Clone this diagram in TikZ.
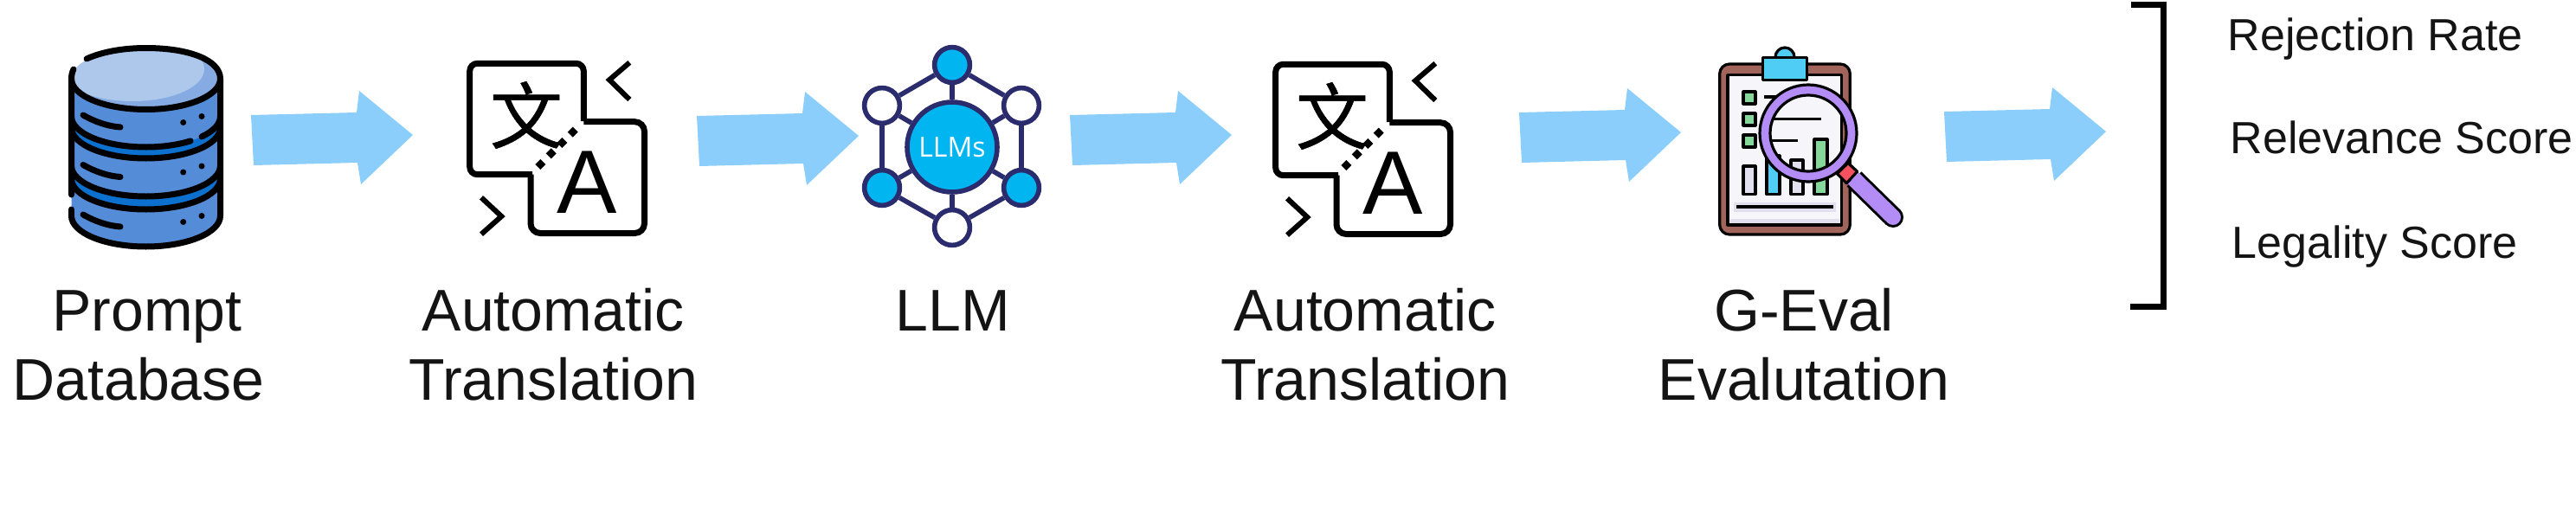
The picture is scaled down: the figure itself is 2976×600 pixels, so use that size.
\documentclass[tikz,border=0pt]{standalone}
\usepackage{fontspec}
\setmainfont{Liberation Sans}
\newfontfamily\cjkfont[FakeBold=0.6]{Noto Sans CJK SC}
\newfontfamily\iconfont{Open Sans}
\usetikzlibrary{calc}
\definecolor{arrowblue}{HTML}{8CCEFB}
\definecolor{dbmid}{HTML}{558CD8}
\definecolor{dbtop}{HTML}{86ABE3}
\definecolor{dbhigh}{HTML}{AEC8EC}
\definecolor{dbband}{HTML}{0B70CE}
\definecolor{netnavy}{HTML}{2A2C6E}
\definecolor{netcyan}{HTML}{00B5F0}
\definecolor{boardbrown}{HTML}{A0645A}
\definecolor{paperwhite}{HTML}{F6F5FA}
\definecolor{papershade}{HTML}{E2E0EE}
\definecolor{clipcyan}{HTML}{4FCDF5}
\definecolor{checkgreen}{HTML}{85D89A}
\definecolor{lenspurple}{HTML}{B48CF5}
\definecolor{collarred}{HTML}{F5515F}
\newcommand{\blockarrow}[2]{%
  \fill[blockarrow,shift={(#1,#2)}] (290,133) -- (412,130) -- (415,105) -- (477,156) -- (417,213) -- (413,188) -- (293,191) -- cycle;}
\tikzset{
  x=0.25pt,y=-0.25pt,
  blockarrow/.style={arrowblue},
  biglabel/.style={font=\fontsize{17}{20}\selectfont,align=center,inner sep=0pt,anchor=base,text=black!92},
  metriclabel/.style={font=\fontsize{13}{16}\selectfont,inner sep=0pt,anchor=base west,text=black!92},
  dbline/.style={line width=1.75pt,line cap=round,black},
  netedge/.style={line width=1.4pt,netnavy},
  netnode/.style={circle,draw=netnavy,line width=1.4pt,minimum size=10.2pt,inner sep=0pt},
  netfilled/.style={netnode,fill=netcyan},
  netempty/.style={netnode,fill=white},
  ink/.style={line width=0.8pt,black},
  thinbox/.style={ink,line join=round},
  transline/.style={line width=1.75pt,black},
  translation icon/.pic={
    \draw[transline,rounded corners=2.2pt] (674.3,140) -- (674.3,73.3) -- (542.7,73.3) -- (542.7,201.7) -- (615,201.7);
    \draw[transline,rounded corners=2.8pt] (674.3,140.7) -- (744.5,140.7) -- (744.5,269.5) -- (613,269.5) -- (613,201.7);
    \foreach \dx/\dy in {624.3/190,636.7/177.3,649.3/165,661.7/152.7}
      \fill (\dx-6,\dy) -- (\dx,\dy-6) -- (\dx+6,\dy) -- (\dx,\dy+6) -- cycle;
    \draw[line width=1.5pt,miter limit=10] (727.3,72.3) -- (704,92.3) -- (727.3,115);
    \draw[line width=1.5pt,miter limit=10] (556,228.3) -- (579.3,250) -- (556,270.7);
    \node[inner sep=0pt,font=\cjkfont\fontsize{21}{24}\selectfont] (zh) at (608,133) {文};
    \node[inner sep=0pt,anchor=base,font=\fontsize{26}{28}\selectfont] (en) at (678,246) {A};
  }
}
\begin{document}
\begin{tikzpicture}
\useasboundingbox (0,0) rectangle (2976,600);
% ---------- database ----------
\fill[dbmid] (82.5,91) -- (82.5,249.5) arc[start angle=180,end angle=0,x radius=86,y radius=35.5] -- (254.5,91) -- cycle;
\fill[dbband] (82.5,134.5) arc[start angle=180,end angle=0,x radius=86,y radius=35.5] -- (254.5,147.5) arc[start angle=0,end angle=180,x radius=86,y radius=35.5] -- cycle;
\fill[dbband] (82.5,191.5) arc[start angle=180,end angle=0,x radius=86,y radius=35.5] -- (254.5,206.5) arc[start angle=0,end angle=180,x radius=86,y radius=35.5] -- cycle;
\begin{scope}
  \clip (168.5,91) ellipse [x radius=86,y radius=35.5];
  \fill[dbtop] (168.5,91) ellipse [x radius=86,y radius=35.5];
  \fill[dbhigh] (153,80) ellipse [x radius=83,y radius=37];
\end{scope}
% outline
\draw[dbline] (100,68) .. controls (120,59) and (145,55.5) .. (168.5,55.5) .. controls (220,55.5) and (254.5,70) .. (254.5,91) -- (254.5,249.5);
\draw[dbline] (85,80) .. controls (83,84) and (82.5,88) .. (82.5,91) -- (82.5,225);
\draw[dbline] (82.5,242) -- (82.5,249.5);
\draw[dbline] (82.5,91) arc[start angle=180,end angle=0,x radius=86,y radius=35.5];
\draw[dbline] (82.5,134.5) arc[start angle=180,end angle=53.1,x radius=86,y radius=35.5];
\draw[dbline] (233,158) arc[start angle=41.4,end angle=0,x radius=86,y radius=35.5];
\draw[dbline] (82.5,147.5) arc[start angle=180,end angle=0,x radius=86,y radius=35.5];
\draw[dbline] (82.5,191.5) arc[start angle=180,end angle=0,x radius=86,y radius=35.5];
\draw[dbline] (82.5,206.5) arc[start angle=180,end angle=0,x radius=86,y radius=35.5];
\draw[dbline] (82.5,249.5) arc[start angle=180,end angle=0,x radius=86,y radius=35.5];
\foreach \oy in {0,57.5,115}{
  \draw[dbline] (96,133+\oy) .. controls (110,141+\oy) and (125,146+\oy) .. (139,147+\oy);
  \fill (211.7,141.5+\oy) circle [radius=3.5];
  \fill (233,134.5+\oy) circle [radius=3.5];
}
% ---------- block arrows ----------
\blockarrow{0}{0}
\blockarrow{515}{1}
\blockarrow{946}{0}
\blockarrow{1465}{-3}
\blockarrow{1956}{-4}
% ---------- translation icons ----------
\pic (tra) at (0,0) {translation icon};
\pic (trb) at (931,1) {translation icon};
% ---------- LLM network ----------
\node[netfilled,minimum size=26pt,font=\iconfont\fontsize{8}{10}\selectfont,text=white] (hub) at (1100,170) {LLMs};
\node[netfilled] (n1) at (1100,75) {};
\node[netempty] (n2) at (1180,122) {};
\node[netfilled] (n3) at (1180,217) {};
\node[netempty] (n4) at (1100,263) {};
\node[netfilled] (n5) at (1019,217) {};
\node[netempty] (n6) at (1019,122) {};
\foreach \a/\b in {n1/n2,n2/n3,n3/n4,n4/n5,n5/n6,n6/n1,hub/n1,hub/n2,hub/n3,hub/n4,hub/n5,hub/n6}
  \draw[netedge] (\a) -- (\b);
% ---------- evaluation icon ----------
\draw[thinbox,fill=boardbrown,rounded corners=2.8pt] (1986.7,74) rectangle (2137.3,271);
\draw[thinbox,fill=paperwhite] (1996,86.7) rectangle (2127.7,260);
\fill[papershade] (1999,253) rectangle (2125,258);
\fill[papershade] (2003,234) rectangle (2121,245);
\foreach \cy in {106,131,156}
  \draw[thinbox,fill=checkgreen] (2014,\cy) rectangle (2028,\cy+14);
\draw[ink] (2038,112) -- (2052,112);
\draw[ink] (2037,137.3) -- (2104,137.3);
\draw[ink] (2037,162.3) -- (2077,162.3);
\draw[thinbox,fill=papershade] (2014,192) rectangle (2028,224.5);
\draw[thinbox,fill=clipcyan] (2041,180) rectangle (2056,224.5);
\draw[thinbox,fill=papershade] (2069,185) rectangle (2083,224.5);
\draw[thinbox,fill=checkgreen] (2096,161) rectangle (2111,224.5);
\draw[ink] (2006,239) -- (2118,239);
\draw[thinbox,fill=clipcyan] (2062,66) circle [radius=11];
\draw[thinbox,fill=clipcyan] (2036.7,66.7) rectangle (2087.7,92.3);
\draw[line width=6pt,black] (2142,207) -- (2187,251);
\fill (2187,251) circle [radius=12];
\draw[line width=4.5pt,lenspurple] (2141,206) -- (2187,251);
\fill[lenspurple] (2187,251) circle [radius=9];
\draw[thinbox,fill=collarred] (2122.3,200.7) -- (2133.3,211.7) -- (2145.7,198.3) -- (2135,188.3) -- cycle;
\draw[thinbox,fill=lenspurple,even odd rule] (2089,154) circle [radius=56] (2089,154) circle [radius=44];
% ---------- labels ----------
\node[biglabel] (prompt) at (160,462) {\hspace*{5pt}Prompt\\Database};
\node[biglabel] (auto1) at (639,462) {Automatic\\Translation};
\node[biglabel] (llm) at (1101,382) {LLM};
\node[biglabel] (auto2) at (1577,462) {Automatic\\Translation};
\node[biglabel] (geval) at (2084,462) {G-Eval\\Evalutation};
% ---------- bracket ----------
\draw[line width=1.75pt,black] (2462,5) -- (2499,5) -- (2499,354) -- (2461,354);
\node[metriclabel] (m1) at (2573,58) {Rejection Rate};
\node[metriclabel] (m2) at (2576,177) {Relevance Score};
\node[metriclabel] (m3) at (2578,298) {Legality Score};
\end{tikzpicture}
\end{document}
